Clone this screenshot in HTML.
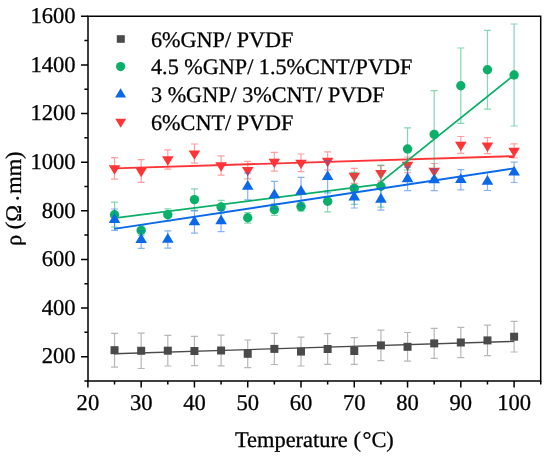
<!DOCTYPE html>
<html><head><meta charset="utf-8"><style>
html,body{margin:0;padding:0;background:#fff;}
body{width:550px;height:459px;overflow:hidden;}
svg{display:block;font-family:"Liberation Serif",serif;text-rendering:geometricPrecision;will-change:transform;}
</style></head><body>
<svg width="550" height="459" viewBox="0 0 550 459">
<rect width="550" height="459" fill="#fff"/>
<g stroke="#4a4a4a" stroke-opacity="0.4" stroke-width="1.2" fill="none"><path d="M114.54 333.3V367.1M111.04 333.3h7M111.04 367.1h7"/><path d="M141.18 333.1V368.5M137.68 333.1h7M137.68 368.5h7"/><path d="M167.81 335.4V366M164.31 335.4h7M164.31 366h7"/><path d="M194.45 336.3V365.7M190.95 336.3h7M190.95 365.7h7"/><path d="M221.09 335.1V365.9M217.59 335.1h7M217.59 365.9h7"/><path d="M247.72 340V367.6M244.22 340h7M244.22 367.6h7"/><path d="M274.36 333.3V364.5M270.86 333.3h7M270.86 364.5h7"/><path d="M301 337.2V366M297.5 337.2h7M297.5 366h7"/><path d="M327.64 333.7V364.3M324.14 333.7h7M324.14 364.3h7"/><path d="M354.27 337.6V364.4M350.77 337.6h7M350.77 364.4h7"/><path d="M380.91 330.2V360.6M377.41 330.2h7M377.41 360.6h7"/><path d="M407.55 332.5V361.1M404.05 332.5h7M404.05 361.1h7"/><path d="M434.19 328.4V358.4M430.69 328.4h7M430.69 358.4h7"/><path d="M460.82 327.3V357.7M457.32 327.3h7M457.32 357.7h7"/><path d="M487.46 325.2V355.6M483.96 325.2h7M483.96 355.6h7"/><path d="M514.1 321.4V352M510.6 321.4h7M510.6 352h7"/></g>
<path d="M114.2 353.7L514.1 341.4" stroke="#4a4a4a" stroke-width="1.4" fill="none"/>
<g fill="#4a4a4a"><rect x="110.54" y="346.2" width="8" height="8"/><rect x="137.18" y="346.8" width="8" height="8"/><rect x="163.81" y="346.7" width="8" height="8"/><rect x="190.45" y="347" width="8" height="8"/><rect x="217.09" y="346.5" width="8" height="8"/><rect x="243.72" y="349.8" width="8" height="8"/><rect x="270.36" y="344.9" width="8" height="8"/><rect x="297" y="347.6" width="8" height="8"/><rect x="323.64" y="345" width="8" height="8"/><rect x="350.27" y="347" width="8" height="8"/><rect x="376.91" y="341.4" width="8" height="8"/><rect x="403.55" y="342.8" width="8" height="8"/><rect x="430.19" y="339.4" width="8" height="8"/><rect x="456.82" y="338.5" width="8" height="8"/><rect x="483.46" y="336.4" width="8" height="8"/><rect x="510.1" y="332.7" width="8" height="8"/></g>
<g stroke="#ff3437" stroke-opacity="0.47" stroke-width="1.2" fill="none"><path d="M114.54 157.7V179.1M111.04 157.7h7M111.04 179.1h7"/><path d="M141.18 159.7V182.3M137.68 159.7h7M137.68 182.3h7"/><path d="M167.81 149.8V169.2M164.31 149.8h7M164.31 169.2h7"/><path d="M194.45 144V163.2M190.95 144h7M190.95 163.2h7"/><path d="M221.09 155.9V175.1M217.59 155.9h7M217.59 175.1h7"/><path d="M247.72 161.4V178.8M244.22 161.4h7M244.22 178.8h7"/><path d="M274.36 152.4V171.2M270.86 152.4h7M270.86 171.2h7"/><path d="M301 154V171.6M297.5 154h7M297.5 171.6h7"/><path d="M327.64 151.9V169.9M324.14 151.9h7M324.14 169.9h7"/><path d="M354.27 168.4V183.4M350.77 168.4h7M350.77 183.4h7"/><path d="M380.91 165.6V180.8M377.41 165.6h7M377.41 180.8h7"/><path d="M407.55 157V172.6M404.05 157h7M404.05 172.6h7"/><path d="M434.19 163.5V178.5M430.69 163.5h7M430.69 178.5h7"/><path d="M460.82 136.5V153.3M457.32 136.5h7M457.32 153.3h7"/><path d="M487.46 137.7V153.7M483.96 137.7h7M483.96 153.7h7"/><path d="M514.1 143.8V158M510.6 143.8h7M510.6 158h7"/></g>
<path d="M114.2 168.4L514.1 156.2" stroke="#ff3437" stroke-width="1.9" fill="none"/>
<path fill="#ff3437" d="M108.74 165.27H120.34L114.54 174.67ZM135.38 167.87H146.98L141.18 177.27ZM162.01 156.37H173.61L167.81 165.77ZM188.65 150.47H200.25L194.45 159.87ZM215.29 162.37H226.89L221.09 171.77ZM241.92 166.97H253.53L247.72 176.37ZM268.56 158.67H280.16L274.36 168.07ZM295.2 159.67H306.8L301 169.07ZM321.84 157.77H333.44L327.64 167.17ZM348.47 172.77H360.07L354.27 182.17ZM375.11 170.07H386.71L380.91 179.47ZM401.75 161.67H413.35L407.55 171.07ZM428.39 167.87H439.99L434.19 177.27ZM455.02 141.77H466.62L460.82 151.17ZM481.66 142.57H493.26L487.46 151.97ZM508.3 147.77H519.9L514.1 157.17Z"/>
<g stroke="#0aaf68" stroke-opacity="0.5" stroke-width="1.2" fill="none"><path d="M114.54 202.2V227.2M111.04 202.2h7M111.04 227.2h7"/><path d="M141.18 225.4V235.4M137.68 225.4h7M137.68 235.4h7"/><path d="M167.81 208.8V220.8M164.31 208.8h7M164.31 220.8h7"/><path d="M194.45 188.8V210.4M190.95 188.8h7M190.95 210.4h7"/><path d="M221.09 200.3V213.7M217.59 200.3h7M217.59 213.7h7"/><path d="M247.72 212.5V223.1M244.22 212.5h7M244.22 223.1h7"/><path d="M274.36 203.8V215.4M270.86 203.8h7M270.86 215.4h7"/><path d="M301 202.1V211.1M297.5 202.1h7M297.5 211.1h7"/><path d="M327.64 190.5V211.9M324.14 190.5h7M324.14 211.9h7"/><path d="M354.27 172.4V204.4M350.77 172.4h7M350.77 204.4h7"/><path d="M380.91 165.2V207.2M377.41 165.2h7M377.41 207.2h7"/><path d="M407.55 127.8V170.2M404.05 127.8h7M404.05 170.2h7"/><path d="M434.19 90.7V178.1M430.69 90.7h7M430.69 178.1h7"/><path d="M460.82 48V123.4M457.32 48h7M457.32 123.4h7"/><path d="M487.46 30.3V109.1M483.96 30.3h7M483.96 109.1h7"/><path d="M514.1 24V126M510.6 24h7M510.6 126h7"/></g>
<path d="M114.2 218.2L377.6 184.6L514.1 75" stroke="#0aaf68" stroke-width="1.8" fill="none" stroke-linejoin="round"/>
<g fill="#0aaf68"><circle cx="114.54" cy="214.7" r="4.7"/><circle cx="141.18" cy="230.4" r="4.7"/><circle cx="167.81" cy="214.8" r="4.7"/><circle cx="194.45" cy="199.6" r="4.7"/><circle cx="221.09" cy="207" r="4.7"/><circle cx="247.72" cy="217.8" r="4.7"/><circle cx="274.36" cy="209.6" r="4.7"/><circle cx="301" cy="206.6" r="4.7"/><circle cx="327.64" cy="201.2" r="4.7"/><circle cx="354.27" cy="188.4" r="4.7"/><circle cx="380.91" cy="186.2" r="4.7"/><circle cx="407.55" cy="149" r="4.7"/><circle cx="434.19" cy="134.4" r="4.7"/><circle cx="460.82" cy="85.7" r="4.7"/><circle cx="487.46" cy="69.7" r="4.7"/><circle cx="514.1" cy="75" r="4.7"/></g>
<g stroke="#0b68e9" stroke-opacity="0.5" stroke-width="1.2" fill="none"><path d="M114.54 209V230.4M111.04 209h7M111.04 230.4h7"/><path d="M141.18 231V248.4M137.68 231h7M137.68 248.4h7"/><path d="M167.81 230.8V248.2M164.31 230.8h7M164.31 248.2h7"/><path d="M194.45 210.8V233.2M190.95 210.8h7M190.95 233.2h7"/><path d="M221.09 210.3V231.7M217.59 210.3h7M217.59 231.7h7"/><path d="M247.72 173.2V199.8M244.22 173.2h7M244.22 199.8h7"/><path d="M274.36 181.4V208.6M270.86 181.4h7M270.86 208.6h7"/><path d="M301 177.3V205.9M297.5 177.3h7M297.5 205.9h7"/><path d="M327.64 160.8V192.8M324.14 160.8h7M324.14 192.8h7"/><path d="M354.27 186.4V208M350.77 186.4h7M350.77 208h7"/><path d="M380.91 188.6V210.2M377.41 188.6h7M377.41 210.2h7"/><path d="M407.55 167.1V190.7M404.05 167.1h7M404.05 190.7h7"/><path d="M434.19 169.4V190.6M430.69 169.4h7M430.69 190.6h7"/><path d="M460.82 169.6V189.8M457.32 169.6h7M457.32 189.8h7"/><path d="M487.46 172.5V190.5M483.96 172.5h7M483.96 190.5h7"/><path d="M514.1 162.1V182.5M510.6 162.1h7M510.6 182.5h7"/></g>
<path d="M114.2 228.9L514.1 168.4" stroke="#0b68e9" stroke-width="1.9" fill="none"/>
<path fill="#0b68e9" d="M114.54 213.17L120.34 222.97H108.74ZM141.18 233.17L146.98 242.97H135.38ZM167.81 232.97L173.61 242.77H162.01ZM194.45 215.47L200.25 225.27H188.65ZM221.09 214.47L226.89 224.27H215.29ZM247.72 179.97L253.53 189.77H241.92ZM274.36 188.47L280.16 198.27H268.56ZM301 185.07L306.8 194.87H295.2ZM327.64 170.27L333.44 180.07H321.84ZM354.27 190.67L360.07 200.47H348.47ZM380.91 192.87L386.71 202.67H375.11ZM407.55 172.37L413.35 182.17H401.75ZM434.19 173.47L439.99 183.27H428.39ZM460.82 173.17L466.62 182.97H455.02ZM487.46 174.97L493.26 184.77H481.66ZM514.1 165.77L519.9 175.57H508.3Z"/>
<path d="M84.4 381H88M81 356.69H88M84.4 332.37H88M81 308.06H88M84.4 283.75H88M81 259.43H88M84.4 235.12H88M81 210.81H88M84.4 186.49H88M81 162.18H88M84.4 137.87H88M81 113.55H88M84.4 89.24H88M81 64.93H88M84.4 40.61H88M81 16.3H88M87.9 381V387.5M114.54 381V384.5M141.18 381V387.5M167.81 381V384.5M194.45 381V387.5M221.09 381V384.5M247.72 381V387.5M274.36 381V384.5M301 381V387.5M327.64 381V384.5M354.27 381V387.5M380.91 381V384.5M407.55 381V387.5M434.19 381V384.5M460.82 381V387.5M487.46 381V384.5M514.1 381V387.5M540.74 381V384.5" stroke="#000" stroke-width="1.5" fill="none"/>
<path d="M88.0 16.3H540.7V381.0H88.0Z" stroke="#000" stroke-width="1.5" fill="none"/>
<g font-family="Liberation Serif, serif" stroke="#000" stroke-width="0.3" font-size="22.6" fill="#000"><text x="75.6" y="363.39" text-anchor="end">200</text><text x="75.6" y="314.76" text-anchor="end">400</text><text x="75.6" y="266.13" text-anchor="end">600</text><text x="75.6" y="217.51" text-anchor="end">800</text><text x="75.6" y="168.88" text-anchor="end">1000</text><text x="75.6" y="120.25" text-anchor="end">1200</text><text x="75.6" y="71.63" text-anchor="end">1400</text><text x="75.6" y="23" text-anchor="end">1600</text><text x="87.9" y="410.2" text-anchor="middle">20</text><text x="141.18" y="410.2" text-anchor="middle">30</text><text x="194.45" y="410.2" text-anchor="middle">40</text><text x="247.72" y="410.2" text-anchor="middle">50</text><text x="301" y="410.2" text-anchor="middle">60</text><text x="354.27" y="410.2" text-anchor="middle">70</text><text x="407.55" y="410.2" text-anchor="middle">80</text><text x="460.82" y="410.2" text-anchor="middle">90</text><text x="514.1" y="410.2" text-anchor="middle">100</text></g>
<text font-family="Liberation Serif, serif" stroke="#000" stroke-width="0.3" font-size="22.4" x="235" y="446.5" fill="#000">Temperature (<tspan dx="1.6">°</tspan>C)</text>
<text font-family="Liberation Serif, serif" stroke="#000" stroke-width="0.3" font-size="22.4" fill="#000" transform="translate(20.9 245.9) rotate(-90)">ρ (Ω<tspan dx="3" dy="4.5">·</tspan><tspan dx="0.8" dy="-4.5">mm)</tspan></text>
<rect x="116.8" y="35.2" width="8" height="7.6" fill="#4a4a4a"/><circle cx="120.6" cy="66.6" r="4.6" fill="#0aaf68"/><path fill="#0b68e9" d="M120.6 88.2L126.1 97.5H115.1Z"/><path fill="#ff3437" d="M115.25 118.77H126.15L120.7 127.87Z"/>
<g font-family="Liberation Serif, serif" stroke="#000" stroke-width="0.3" font-size="22.2" fill="#000"><text x="151" y="46.6">6%GNP/ PVDF</text><text x="151" y="73.7">4.5 %GNP/ 1.5%CNT/PVDF</text><text x="151" y="101.8">3 %GNP/ 3%CNT/ PVDF</text><text x="151" y="129.7">6%CNT/ PVDF</text></g>
</svg>
</body></html>
